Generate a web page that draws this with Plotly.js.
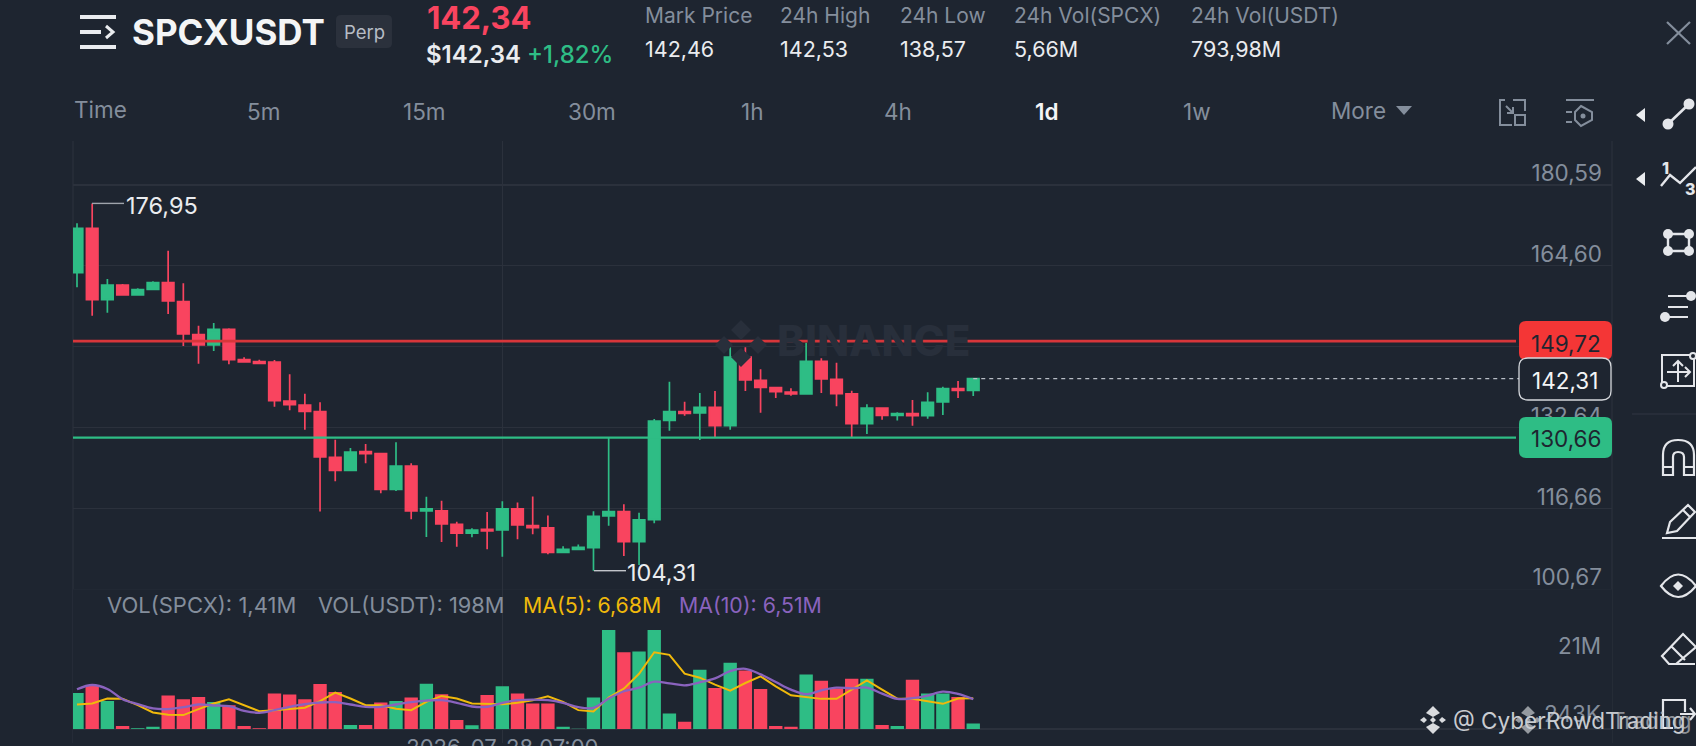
<!DOCTYPE html>
<html><head><meta charset="utf-8">
<script src="https://cdn.plot.ly/plotly-3.0.1.min.js"></script>
<style>html,body{margin:0;padding:0;background:#1E2530;overflow:hidden}</style>
</head><body><div id="chart" style="width:1696px;height:746px"></div>
<script>
const dates = ["2026-06-30 07:00","2026-07-01 07:00","2026-07-02 07:00","2026-07-03 07:00","2026-07-04 07:00","2026-07-05 07:00","2026-07-06 07:00","2026-07-07 07:00","2026-07-08 07:00","2026-07-09 07:00","2026-07-10 07:00","2026-07-11 07:00","2026-07-12 07:00","2026-07-13 07:00","2026-07-14 07:00","2026-07-15 07:00","2026-07-16 07:00","2026-07-17 07:00","2026-07-18 07:00","2026-07-19 07:00","2026-07-20 07:00","2026-07-21 07:00","2026-07-22 07:00","2026-07-23 07:00","2026-07-24 07:00","2026-07-25 07:00","2026-07-26 07:00","2026-07-27 07:00","2026-07-28 07:00","2026-07-29 07:00","2026-07-30 07:00","2026-07-31 07:00","2026-08-01 07:00","2026-08-02 07:00","2026-08-03 07:00","2026-08-04 07:00","2026-08-05 07:00","2026-08-06 07:00","2026-08-07 07:00","2026-08-08 07:00","2026-08-09 07:00","2026-08-10 07:00","2026-08-11 07:00","2026-08-12 07:00","2026-08-13 07:00","2026-08-14 07:00","2026-08-15 07:00","2026-08-16 07:00","2026-08-17 07:00","2026-08-18 07:00","2026-08-19 07:00","2026-08-20 07:00","2026-08-21 07:00","2026-08-22 07:00","2026-08-23 07:00","2026-08-24 07:00","2026-08-25 07:00","2026-08-26 07:00","2026-08-27 07:00","2026-08-28 07:00"];
const open = [163.26,172.02,157.92,160.82,158.85,159.97,161.28,157.53,151.00,148.96,152.06,146.06,145.67,145.60,137.89,137.10,135.78,126.76,124.19,127.88,127.48,120.43,125.04,116.15,116.15,113.51,111.74,112.53,112.39,116.55,113.25,112.79,107.98,108.57,108.90,115.16,116.02,110.09,114.44,134.07,135.78,135.52,136.64,133.02,146.59,141.98,140.53,139.67,139.28,145.74,142.18,139.28,133.41,136.51,135.06,135.39,134.99,137.70,140.33,140.00];
const high = [173.01,176.95,162.00,161.02,160.16,161.55,167.61,161.15,152.78,153.31,152.26,146.52,146.06,146.00,143.16,139.34,137.63,130.25,128.60,129.39,127.55,129.72,125.57,118.98,118.19,114.04,112.72,115.95,118.06,117.80,118.99,115.23,109.17,109.50,116.09,130.58,117.47,115.82,134.34,141.71,137.76,139.47,139.87,149.42,148.50,144.15,140.73,140.40,149.42,146.33,145.47,139.93,137.23,136.51,135.65,138.09,139.61,140.73,141.85,142.38];
const low = [160.36,154.76,155.35,158.71,158.85,159.90,155.09,148.77,145.27,147.78,145.14,145.60,145.21,136.77,136.05,132.23,116.02,122.01,124.19,125.57,119.64,120.10,114.50,111.01,110.02,109.10,110.94,108.57,107.12,110.55,111.54,107.59,107.98,108.51,104.31,113.25,107.26,105.48,113.72,132.03,134.99,130.19,130.71,132.23,139.87,135.59,138.49,138.95,139.28,139.47,136.84,130.71,131.37,134.20,134.01,133.02,134.40,135.13,138.49,138.88];
const close = [172.02,157.92,160.82,158.85,159.90,161.28,157.66,151.14,148.96,152.06,146.06,145.60,145.34,137.96,137.17,135.85,126.82,124.19,127.81,127.48,120.43,125.04,116.15,116.55,113.58,111.74,112.39,112.20,116.55,113.38,112.85,107.98,108.57,108.97,115.10,116.02,110.09,114.37,133.94,135.78,135.45,136.64,133.02,146.59,142.05,140.60,139.74,139.28,145.74,142.24,139.34,133.41,136.51,135.06,135.39,134.99,137.63,140.33,140.00,142.31];
const volume = [7.81,9.27,6.14,0.87,0.38,0.73,7.25,6.49,6.97,5.93,5.24,0.87,0.38,7.67,7.46,6.49,9.68,8.02,1.08,1.08,5.80,6.14,6.84,9.75,7.53,2.12,1.01,7.39,9.20,7.67,5.59,5.59,0.73,0.31,6.84,21.0,16.34,16.48,21.0,3.50,1.77,12.67,8.85,14.12,12.53,8.64,0.87,0.73,11.69,10.38,8.71,10.79,10.79,1.08,0.87,10.58,7.67,7.67,6.97,1.41];
const ma5 = [5.38,5.59,6.63,6.56,5.24,3.71,3.23,3.16,4.41,5.59,6.49,5.24,3.99,4.20,4.48,4.69,6.07,7.88,6.63,5.24,5.24,4.48,4.20,5.93,7.18,6.63,5.59,5.52,5.45,5.73,6.28,7.11,5.93,4.20,3.92,6.84,8.71,11.83,16.34,15.79,11.83,11.00,9.54,8.29,9.89,11.28,9.20,7.32,6.97,6.56,6.56,8.50,10.44,8.50,6.63,6.56,6.00,5.52,6.63,6.68];
const ma10 = [8.57,9.47,8.64,6.49,5.45,4.55,4.41,4.82,5.38,5.17,5.03,4.06,3.64,4.20,4.89,5.45,5.80,5.87,5.38,4.89,4.89,5.38,5.87,6.21,6.28,5.73,4.96,4.89,5.73,6.28,6.42,6.28,5.73,4.82,4.69,6.63,8.15,8.92,10.17,9.82,9.40,10.03,10.86,12.39,12.87,11.69,10.10,8.50,7.53,8.36,8.92,8.78,8.92,7.67,6.56,6.70,7.25,8.09,7.60,6.51];
const priceTicks = [180.59,164.60,148.62,132.64,116.66,100.67];
const priceTickLabels = ["180,59","164,60","148,62","132,64","116,66","100,67"];
const volBase = 0.243;
const levelHigh = 149.72, levelLow = 130.66, lastPrice = 142.31;

const W=1696,H=746;
const BG="#1E2530",GRID="#2B313C",RED="#F9445F",GREEN="#2EBD85",GRAY="#848E9C",LIGHT="#EAECEF",ICON="#E4E6EA";
const px=x=>x/W, py=y=>1-y/H;
const annotations=[],shapes=[];
function txt(t,x,y,size,color,anchor,weight,extra){
  annotations.push(Object.assign({text:t,x:px(x),y:py(y),xref:"paper",yref:"paper",showarrow:false,xanchor:anchor||"left",yanchor:"middle",borderpad:0,
    font:{family:"Inter, Roboto, sans-serif",size:size,color:color,weight:weight||400}},extra||{}));
}
function P(d){ // path written in pixel coordinates -> paper coordinates
  let i=0; return d.replace(/-?\d+(\.\d+)?/g,m=>{const v=+m;return (i++%2===0?px(v):py(v)).toFixed(5);});
}
function path(d,color,width,fill){
  shapes.push({type:"path",path:P(d),xref:"paper",yref:"paper",line:{color:color||ICON,width:width===undefined?2.4:width},fillcolor:fill||"rgba(0,0,0,0)"});
}
function circ(x,y,r,color,fill){
  shapes.push({type:"circle",xref:"paper",yref:"paper",x0:px(x-r),x1:px(x+r),y0:py(y+r),y1:py(y-r),line:{color:color||ICON,width:fill===false?2:0},fillcolor:fill===false?BG:(color||ICON)});
}
function rrect(x0,y0,x1,y1,r,fill,stroke,w){
  const d=`M${x0+r} ${y0} L${x1-r} ${y0} Q${x1} ${y0} ${x1} ${y0+r} L${x1} ${y1-r} Q${x1} ${y1} ${x1-r} ${y1} L${x0+r} ${y1} Q${x0} ${y1} ${x0} ${y1-r} L${x0} ${y0+r} Q${x0} ${y0} ${x0+r} ${y0} Z`;
  shapes.push({type:"path",path:P(d),xref:"paper",yref:"paper",line:{color:stroke||fill,width:w||0},fillcolor:fill});
}

/* header */
path("M80 17 L116 17",LIGHT,4); path("M80 32 L101 32",LIGHT,4); path("M80 47 L116 47",LIGHT,4); path("M106 26 L113 32 L106 38",LIGHT,3);
txt("SPCXUSDT",131,32,35,"#F4F5F6","left",700);
rrect(336,15,392,48,5,"#2B313C");
txt("Perp",364,32,18.5,"#B7BDC6","center");
txt("142,34",426,17,31,RED,"left",700);
txt("$142,34",425,54,24,LIGHT,"left",600);
txt("+1,82%",526,54,24,GREEN,"left",500);
const statNames=["Mark Price","24h High","24h Low","24h Vol(SPCX)","24h Vol(USDT)"];
const statVals=["142,46","142,53","138,57","5,66M","793,98M"];
const statX=[644,779,899,1013,1190];
statNames.forEach((s,i)=>{txt(s,statX[i],15,21,GRAY);txt(statVals[i],statX[i],49,21.5,LIGHT);});
path("M1667 22 L1690 44",GRAY,2.2); path("M1690 22 L1667 44",GRAY,2.2);
txt("Time",73,110,22.5,GRAY);
const tabs=["5m","15m","30m","1h","4h","1d","1w"], tabX=[263,425,592,752,898,1047,1197];
tabs.forEach((s,i)=>txt(s,tabX[i],112,22.5,s==="1d"?"#F4F5F6":GRAY,"center",s==="1d"?600:400));
txt("More",1330,111,22.5,GRAY);
path("M1396 106 L1412 106 L1404 115 Z",GRAY,0,GRAY);
path("M1513 100 L1525 100 L1525 111 M1512 125 L1500 125 L1500 100 L1505 100 M1506 106 L1513 113 M1513 107 L1513 113 L1507 113",GRAY,2);
path("M1515 115 L1525 115 L1525 125 L1515 125 Z",GRAY,2);
path("M1566 100 L1594 100 M1566 112 L1572 112 M1566 122 L1572 122 M1581 106 L1592 112 L1592 120 L1581 126 L1575 120 L1575 112 Z",GRAY,2);
circ(1583,116,2.5,GRAY);

/* tool rail */
path("M1636 115 L1645 108 L1645 122 Z",LIGHT,0,LIGHT);
path("M1636 179 L1645 172 L1645 186 Z",LIGHT,0,LIGHT);
path("M1668 124 L1689 104",ICON,2.6); circ(1689,104,5.5); circ(1668,124,5.5);
path("M1661 186 L1670 175 L1680 183 L1696 167",ICON,2.4);
txt("1",1665,168,16,ICON,"center",800); txt("3",1690,189,16,ICON,"center",800);
path("M1668 234 L1689 234 L1689 251 L1668 251 Z",ICON,2.4);
[[1668,234],[1689,234],[1668,251],[1689,251]].forEach(c=>circ(c[0],c[1],5));
path("M1668 296 L1691 296 M1668 307 L1688 307 M1665 317 L1688 317",ICON,2.2); circ(1691,296,5); circ(1665,317,5);
path("M1662 355 L1694 355 L1694 386 L1662 386 Z",ICON,2);
path("M1667 372 L1690 372 M1685 367 L1690 372 L1685 377 M1678 382 L1678 361 M1673 366 L1678 361 L1683 366",ICON,2);
circ(1693,356,3,ICON,false); circ(1664,385,3,ICON,false);
path("M1632 414 L1696 414",GRID,1.5);
path("M1663 475 L1663 455 Q1663 440 1678 440 Q1694 440 1694 455 L1694 475 L1684 475 L1684 457 Q1684 452 1678 452 Q1673 452 1673 457 L1673 475 Z M1663 467 L1673 467 M1684 467 L1694 467",ICON,2.2);
path("M1670 522 L1688 505 L1695 512 L1677 531 L1667 533 Z M1683 510 L1690 517",ICON,2.2);
path("M1662 538 L1696 538",ICON,2.2);
path("M1661 586 Q1678 563 1696 586 Q1678 608 1661 586 Z",ICON,2.2);
path("M1678 581 L1683 586 L1678 591 L1673 586 Z",ICON,0,ICON);
path("M1662 656 L1683 634 L1696 647 L1676 664 L1669 664 Z M1672 647 L1685 660 M1673 664 L1695 664",ICON,2.2);
path("M1685 712 L1685 700 L1663 700 L1663 728 L1673 728 M1680 714 L1695 714 M1690 708 L1695 714 L1690 720",ICON,2.2);

/* chart overlays: levels and tags */
const xTag=1519;
function level(v,color,w){
  shapes.push({type:"line",xref:"paper",yref:"y",x0:px(73),x1:px(xTag-3),y0:v,y1:v,line:{color:color,width:w}});
}
level(levelHigh,"#D8363A",2.8);
level(levelLow,GREEN,2.2);
shapes.push({type:"line",xref:"x",yref:"y",x0:dates[59],x1:"2026-10-03 12:00",y0:lastPrice,y1:lastPrice,line:{color:"#B9BEC6",width:1.3,dash:"4px,4px"}});
rrect(1519,321,1612,360,7,"#F43636");
rrect(1519,358,1611,400,9,BG,"#D5D8DC",1.3);
rrect(1519,417,1612,458,7,GREEN);
txt("149,72",1566,343,22.5,"#1E2530","center");
txt("142,31",1565,380,22.5,"#F4F5F6","center");
txt("130,66",1566,439,22.5,"#1E2530","center");

/* high / low labels */
path("M92 203.4 L124 203.4","#9FA4AB",1.4);
txt("176,95",125,205,23.5,LIGHT);
path("M594 570.7 L626 570.7","#C2C5CA",1.4);
txt("104,31",626,572,23.5,LIGHT);

/* legend line */
txt("VOL(SPCX): 1,41M",106,605,22,GRAY);
txt("VOL(USDT): 198M",317,605,21.8,GRAY);
txt("MA(5): 6,68M",522,605,21.3,"#F0B90B");
txt("MA(10): 6,51M",678,605,21.3,"#8A63BE");
txt("21M",1602,645,22.5,GRAY,"right");
txt("243K",1602,713,22.5,GRAY,"right");

/* BINANCE mark */
txt("BINANCE",776,340,42,"#282F3B","left",800);
path("M741 320 L751 330 L741 340 L731 330 Z M724 336 L733 345 L724 354 L715 345 Z M758 336 L767 345 L758 354 L749 345 Z M741 348 L751 357 L741 367 L731 357 Z","#282F3B",0,"#282F3B");

/* share watermark */
function dia(cx,cy,c){
  path(`M${cx} ${cy-14} L${cx+7} ${cy-7} L${cx} ${cy-3} L${cx-7} ${cy-7} Z M${cx} ${cy+14} L${cx+7} ${cy+7} L${cx} ${cy+3} L${cx-7} ${cy+7} Z M${cx-13} ${cy} L${cx-9} ${cy-3} L${cx-6} ${cy} L${cx-9} ${cy+3} Z M${cx+13} ${cy} L${cx+9} ${cy-3} L${cx+6} ${cy} L${cx+9} ${cy+3} Z M${cx} ${cy-3} L${cx+3} ${cy} L${cx} ${cy+3} L${cx-3} ${cy} Z`,c,0,c);
}
dia(1433,720,"#D9DBDE"); dia(1528,720,"rgba(190,193,198,0.75)");
txt("@ CyberRowdTrading",1452,720,22.5,"#C9CCD1");
txt("Trading",1610,720,22.5,"rgba(190,193,198,0.7)");

const traces=[
 {type:"candlestick",x:dates,open:open,high:high,low:low,close:close,xaxis:"x",yaxis:"y",
  increasing:{line:{color:GREEN,width:1.7},fillcolor:GREEN},decreasing:{line:{color:RED,width:1.7},fillcolor:RED},showlegend:false,hoverinfo:"skip"},
 {type:"bar",x:dates,y:volume.map(v=>v-volBase),base:volBase,xaxis:"x",yaxis:"y2",
  marker:{color:close.map((c,i)=>c>=open[i]?GREEN:RED),line:{width:0}},showlegend:false,hoverinfo:"skip"},
 {type:"scatter",mode:"lines",x:dates,y:ma5,xaxis:"x",yaxis:"y2",line:{color:"#F0B90B",width:2},showlegend:false,hoverinfo:"skip"},
 {type:"scatter",mode:"lines",x:dates,y:ma10,xaxis:"x",yaxis:"y2",line:{color:"#8A63BE",width:2.3,shape:"spline"},showlegend:false,hoverinfo:"skip"}
];
const layout={
 width:W,height:H,margin:{l:0,r:0,t:0,b:0},paper_bgcolor:BG,plot_bgcolor:BG,showlegend:false,boxgap:0.24,boxgroupgap:0,bargap:0.12,
 font:{family:"Inter, Roboto, sans-serif"},
 xaxis:{type:"date",domain:[px(73),px(1612)],anchor:"y2",range:["2026-06-30 00:41","2026-10-09 08:12"],rangeslider:{visible:false},
   tickvals:["2026-07-28 07:00"],ticktext:["2026-07-28 07:00"],ticks:"",tickfont:{size:22,color:GRAY,family:"Inter"},ticklabelstandoff:-11,
   showgrid:true,gridcolor:GRID,gridwidth:1.2,zeroline:false,showline:false,automargin:false},
 yaxis:{domain:[py(609.5),py(141)],anchor:"x",side:"right",range:[96.67,189.29],tickvals:priceTicks,ticktext:priceTickLabels,
   ticklabelposition:"inside top",ticks:"",tickfont:{size:22.5,color:GRAY,family:"Inter"},ticklabelstandoff:7,ticklabelshift:4,
   gridcolor:GRID,gridwidth:1.2,zeroline:false,showline:false,automargin:false},
 yaxis2:{domain:[py(743),py(589.3)],anchor:"x",side:"right",range:[-2.69,29.53],tickvals:[volBase],showticklabels:false,ticks:"",
   gridcolor:GRID,gridwidth:1.2,zeroline:false,showline:false,automargin:false},
 shapes:[
  {type:"line",xref:"paper",yref:"paper",x0:px(73),x1:px(73),y0:py(141),y1:py(743),line:{color:GRID,width:1.2},layer:"below"},
  {type:"line",xref:"paper",yref:"paper",x0:px(1612),x1:px(1612),y0:py(141),y1:py(743),line:{color:GRID,width:1.2},layer:"below"}
 ].concat(shapes),
 annotations:annotations
};
Plotly.newPlot("chart",traces,layout,{displayModeBar:false,staticPlot:true});
</script></body></html>
